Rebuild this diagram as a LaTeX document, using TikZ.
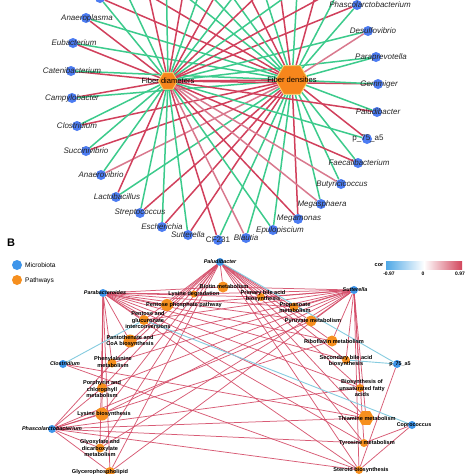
\documentclass[tikz,border=0pt]{standalone}
\usepackage{fontspec}
\setmainfont{Liberation Sans}
\usetikzlibrary{shapes.geometric,backgrounds}
\pgfdeclarelayer{fg}
\pgfsetlayers{background,main,fg}
\definecolor{egreen}{HTML}{3CCB8C}
\definecolor{ered}{HTML}{D1405C}
\definecolor{epink}{HTML}{D9798E}
\definecolor{bblue}{HTML}{4C7CF2}
\definecolor{hexo}{HTML}{F7861C}
\definecolor{hexb}{HTML}{F5D36A}
\definecolor{rbline}{HTML}{D44A66}
\definecolor{lbline}{HTML}{86CCE0}
\definecolor{mblue}{HTML}{3E95EA}
\definecolor{porange}{HTML}{F68F1E}
\definecolor{cbred}{HTML}{D2465C}
\definecolor{cbblue}{HTML}{4FA8E6}
\begin{document}
\begin{tikzpicture}[x=1pt,y=-1pt,
  bact/.style={circle,fill=bblue,inner sep=0,minimum size=10pt},
  blab/.style={font=\fontsize{8}{9}\selectfont\itshape,text=black!85,inner sep=0},
  ulab/.style={font=\fontsize{8}{9}\selectfont,text=black!85,inner sep=0},
  hub/.style={regular polygon,regular polygon sides=6,fill=hexo,draw=hexb,line width=0.8pt,inner sep=0},
  hublab/.style={font=\fontsize{7.6}{9}\selectfont,text=black,inner sep=0},
  edg/.style={draw=egreen,line width=1.5pt},
  edr/.style={draw=ered,line width=1.5pt},
  edp/.style={draw=epink,line width=1.5pt},
  mic/.style={circle,fill=mblue,inner sep=0,minimum size=8pt},
  pw/.style={circle,fill=porange,inner sep=0},
  miclab/.style={font=\fontsize{5.4}{6}\selectfont\bfseries\itshape,inner sep=0},
  pwlab/.style={font=\fontsize{5.6}{6.5}\selectfont\bfseries,align=center,inner sep=0},
  rbe/.style={draw=rbline,line width=0.75pt,opacity=0.9},
  lbe/.style={draw=lbline,line width=0.9pt},
  leglab/.style={font=\fontsize{6.6}{8}\selectfont,anchor=west,inner sep=0}
]
\useasboundingbox (0,0) rectangle (474,474);
\clip (0,0) rectangle (474,474);
\begin{pgfonlayer}{background}
\fill[white] (0,0) rectangle (474,474);
\end{pgfonlayer}

% ---------------- Part A ----------------
\node[hub,minimum size=19pt] (hd) at (168,81) {};
\node[hub,minimum size=33pt] (hs) at (292,80) {};

\foreach \id/\x/\y in {t0/100/-2, Anae/86/18, Eubac/73/43, Caten/71/71, Campy/72/98,
  Clos/77/126, Succ/86/151, Anvib/101/175, Lacto/116/197, Strep/140/213, Esch/162/227,
  Sutt/188/235, CF/218/240, Blau/246/238, Epul/273/230, Megam/298/219, Megas/321/204,
  Buty/341/184, Faec/358/163, pse/367/139, Palu/377/112, Gemm/378/84, Parap/376/57,
  Desul/368/31, Phasc/357/5}
  {\node[bact] (\id) at (\x,\y) {};}

% off-frame partners (above the visible area)
\foreach \id/\a in {o1/132, o2/122, o3/112, o4/102, o5/92, o6/82, o7/72, o8/62, o9/52, o10/43}
  {\coordinate (\id) at ({225+158*cos(\a)},{95-158*sin(\a)});}

\begin{pgfonlayer}{background}
\foreach \n/\a/\b in {t0/g/r, Anae/r/g, Eubac/r/g, Caten/r/g, Campy/r/g, Clos/g/r,
  Succ/g/r, Anvib/g/p, Lacto/r/g, Strep/g/r, Esch/g/r, Sutt/g/r, CF/r/g, Blau/p/g,
  Epul/g/g, Megam/r/r, Megas/p/g, Buty/p/g, Faec/r/g, pse/g/r, Palu/r/g, Gemm/r/g,
  Parap/g/g, Desul/g/p, Phasc/r/g,
  o1/g/r, o2/r/g, o3/g/g, o4/r/g, o5/g/r, o6/r/g, o7/g/r, o8/r/g, o9/g/r, o10/r/g}
  {\draw[ed\a] (\n) -- (hd); \draw[ed\b] (\n) -- (hs);}
\draw[edr] (hd) -- (hs);
\end{pgfonlayer}

\begin{pgfonlayer}{fg}
\node[hublab] at (hd) {Fiber diameters};
\node[hublab] at (hs) {Fiber densities};
\foreach \id/\dx/\t in {Anae/1/Anaeroplasma, Eubac/1/Eubacterium, Caten/1/Catenibacterium,
  Campy/0/Campylobacter, Clos/0/Clostridium, Succ/0/Succinivibrio, Anvib/0/Anaerovibrio,
  Lacto/1/Lactobacillus, Strep/0/Streptococcus, Esch/0/Escherichia, Sutt/0/Sutterella,
  Blau/0/Blautia, Epul/7/Epulopiscium, Megam/1/Megamonas, Megas/1/Megasphaera,
  Buty/1/Butyricicoccus, Faec/1/Faecalibacterium, Palu/1/Paludibacter, Gemm/1/Gemmiger,
  Parap/5/Paraprevotella, Desul/5/Desulfovibrio, Phasc/13/Phascolarctobacterium}
  {\node[blab] at ([xshift=\dx pt]\id) {\t};}
\node[ulab] at (CF) {CF231};
\node[ulab] at ([xshift=1pt]pse) {p\_75\_a5};
\end{pgfonlayer}

% ---------------- Part B ----------------
\node[font=\fontsize{11}{12}\selectfont\bfseries,inner sep=0] (lblB) at (11,243) {B};
\node[circle,fill=mblue,inner sep=0,minimum size=10pt] (legm) at (17,265) {};
\node[circle,fill=porange,inner sep=0,minimum size=10pt] (legp) at (17,280) {};
\node[leglab] at (25,265.5) {Microbiota};
\node[leglab] at (25,280.5) {Pathways};

\node[font=\fontsize{5.5}{6}\selectfont\bfseries,inner sep=0] (corlab) at (379,265) {cor};
\shade[left color=cbblue,right color=cbred,middle color=white] (386,261) rectangle (462,269);
\node[font=\fontsize{5}{6}\selectfont\bfseries,inner sep=0] at (389,274) {-0.97};
\node[font=\fontsize{5}{6}\selectfont\bfseries,inner sep=0] at (423,274) {0};
\node[font=\fontsize{5}{6}\selectfont\bfseries,inner sep=0] at (460,274) {0.97};

\foreach \id/\x/\y in {mPal/220/262, mPar/103/293, mSut/354/290, mClo/63/364,
  mPha/52/429, mP75/397/364, mCop/412/425}
  {\node[mic] (\id) at (\x,\y) {};}

\foreach \id/\x/\y/\s in {pBio/223/287/11, pLyd/194/294/7, pPpp/167/305/12,
  pPgi/144/320/10, pPan/130/341/13, pPhe/112/363/9, pPor/102/388/10, pLyb/102/414/13,
  pGly/100/448/9, pGlp/110/472/10, pPri/261/297/8, pPro/294/307/9, pPyr/311/321/11,
  pRib/332/341/11, pSec/346/360/8, pBsu/360/388/8, pTyr/364/443/8, pSte/359/470/8}
  {\node[pw,minimum size=\s pt] (\id) at (\x,\y) {};}
\node[regular polygon,regular polygon sides=6,fill=porange,inner sep=0,minimum size=16pt] (pThi) at (366,418) {};

\begin{pgfonlayer}{background}
\foreach \m in {mPal,mPar,mSut}
  {\foreach \p in {pBio,pLyd,pPpp,pPgi,pPan,pPhe,pPor,pLyb,pGly,pGlp,pPri,pPro,pPyr,
     pRib,pSec,pBsu,pThi,pTyr,pSte}
     {\draw[rbe] (\m) -- (\p);}}
\foreach \p in {pPhe,pPor,pLyb,pGly,pGlp,pPyr,pRib,pBsu,pThi,pTyr,pSte}
  {\draw[rbe] (mPha) -- (\p);}
\foreach \p in {pSte,pThi}
  {\draw[rbe] (mClo) -- (\p);}
\draw[rbe] (mP75) -- (pSte);
\draw[rbe] (mCop) -- (pSte);
\draw[rbe] (mCop) -- (pTyr);
\draw[lbe] (mClo) -- (pPgi);
\draw[lbe] (pPgi) -- (mCop);
\draw[lbe] (mPal) -- (mP75);
\draw[lbe] (pSec) -- (mP75);
\end{pgfonlayer}

\begin{pgfonlayer}{fg}
\node[miclab] at (mPal) {Paludibacter};
\node[miclab] at ([xshift=2pt]mPar) {Parabacteroides};
\node[miclab] at ([xshift=1pt]mSut) {Sutterella};
\node[miclab] at ([xshift=2pt]mClo) {Clostridium};
\node[miclab] at (mPha) {Phascolarctobacterium};
\node[miclab,font=\fontsize{5.4}{6}\selectfont\bfseries] at ([xshift=3pt]mP75) {p\_75\_a5};
\node[miclab,font=\fontsize{5.4}{6}\selectfont\bfseries] at ([xshift=2pt]mCop) {Coprococcus};

\node[pwlab] at ([xshift=1pt,yshift=1pt]pBio) {Biotin metabolism};
\node[pwlab] at (pLyd) {Lysine degradation};
\node[pwlab] at ([xshift=17pt]pPpp) {Pentose phosphate pathway};
\node[pwlab] at ([xshift=4pt]pPgi) {Pentose and\\glucuronate\\interconversions};
\node[pwlab] at (pPan) {Pantothenate and\\CoA biosynthesis};
\node[pwlab] at ([xshift=1pt,yshift=1pt]pPhe) {Phenylalanine\\metabolism};
\node[pwlab] at ([yshift=-1pt]pPor) {Porphyrin and\\chlorophyll\\metabolism};
\node[pwlab] at ([xshift=2pt]pLyb) {Lysine biosynthesis};
\node[pwlab] at (pGly) {Glyoxylate and\\dicarboxylate\\metabolism};
\node[pwlab] at ([xshift=-10pt]pGlp) {Glycerophospholipid};
\node[pwlab] at ([xshift=2pt,yshift=1pt]pPri) {Primary bile acid\\biosynthesis};
\node[pwlab] at ([xshift=1pt,yshift=-0.5pt]pPro) {Propanoate\\metabolism};
\node[pwlab] at ([xshift=2pt]pPyr) {Pyruvate metabolism};
\node[pwlab] at ([xshift=2pt]pRib) {Riboflavin metabolism};
\node[pwlab] at ([yshift=-1pt]pSec) {Secondary bile acid\\biosynthesis};
\node[pwlab] at ([xshift=2pt]pBsu) {Biosynthesis of\\unsaturated fatty\\acids};
\node[pwlab] at ([xshift=1pt]pThi) {Thiamine metabolism};
\node[pwlab] at ([xshift=3pt]pTyr) {Tyrosine metabolism};
\node[pwlab] at ([xshift=2pt]pSte) {Steroid biosynthesis};
\end{pgfonlayer}
\end{tikzpicture}
\end{document}
